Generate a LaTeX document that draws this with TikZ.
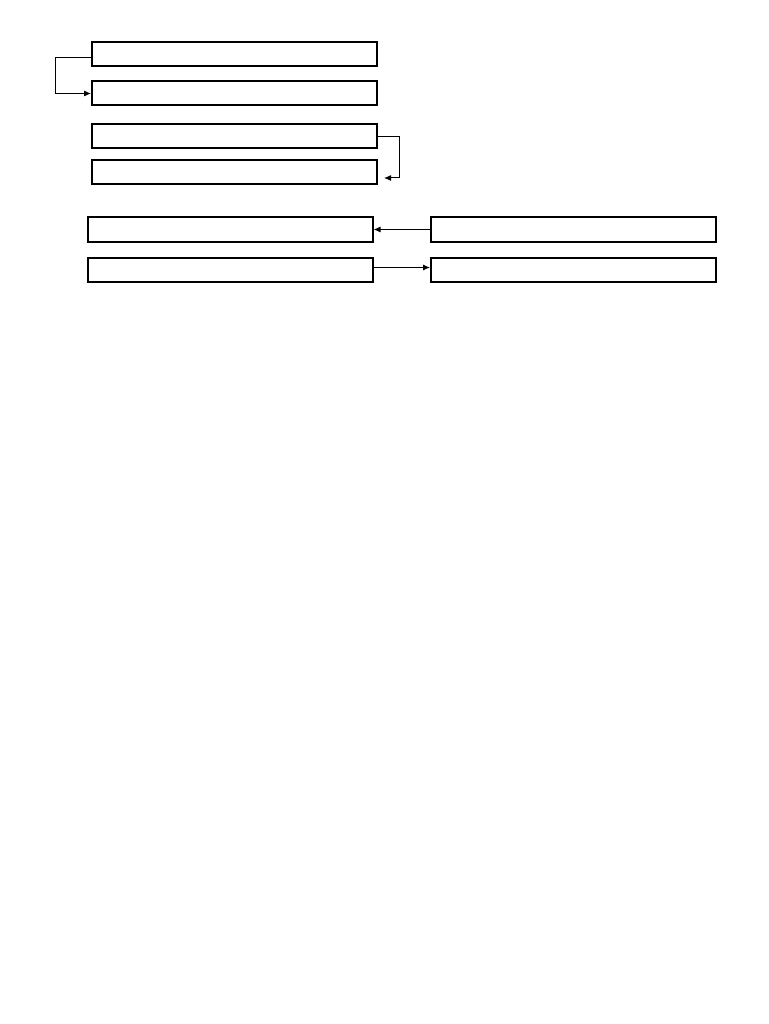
\documentclass[tikz,border=0pt]{standalone}
\usepackage{tikz}
\usetikzlibrary{arrows.meta}

\begin{document}
\begin{tikzpicture}[x=1pt, y=-1pt,
             box/.style={draw, line width=2pt, minimum width=285pt, minimum height=24pt, inner sep=0pt},
             link/.style={line width=1pt, -{Latex[length=7pt, width=6pt]}}]
             \useasboundingbox (0, 0) rectangle (768, 1024);

             \node[box] (top1) at (234, 54.5) {};
             \node[box] (top2) at (234.5, 93.5) {};
             \node[box] (mid1) at (234.5, 136.5) {};
             \node[box] (mid2) at (234.5, 172.5) {};

             \node[box] (left1) at (230, 229.5) {};
             \node[box] (right1) at (573.5, 229.5) {};
             \node[box] (left2) at (230.5, 269.5) {};
             \node[box] (right2) at (573.5, 269.5) {};

             \coordinate (endmid) at (384, 178);

             \draw[link] ([yshift=-3pt]top1.west) -- ++(-35, 0) |- (top2.west);
             \draw[link] (mid1.east) -- ++(21, 0) |- (endmid);
             \draw[link] (right1.west) -- (left1.east);
             \draw[link] ([yshift=2pt]left2.east) -- ([yshift=2pt]right2.west);
             \end{tikzpicture}
\end{document}
